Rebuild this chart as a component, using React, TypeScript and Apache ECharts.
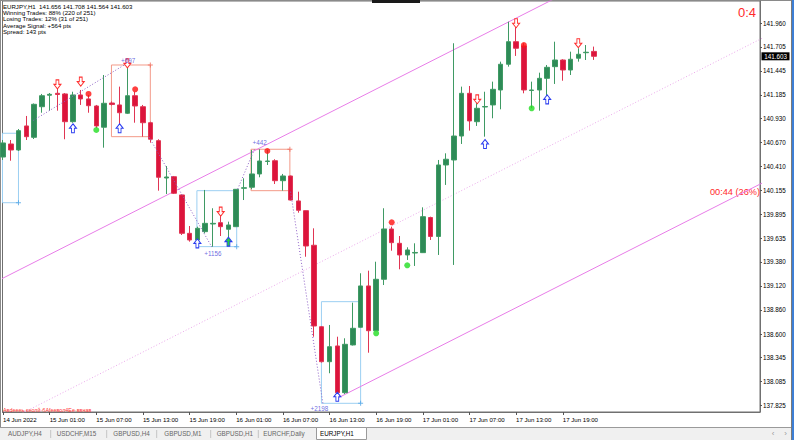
import React, { useEffect, useRef } from "react";
import * as echarts from "echarts";

const FONT = '"Liberation Sans", Arial, sans-serif';

const symbolName = "EURJPY,H1";

// H1 bars from 14 Jun 2022 19:00 to 17 Jun 2022 23:00
const opens = [
  140.514, 140.655, 140.590, 140.850, 140.727, 141.058, 141.182, 141.203, 141.196, 140.896,
  141.185, 141.142, 141.066, 140.836, 141.098, 141.077, 140.987, 141.177, 141.058, 140.885,
  140.691, 140.287, 140.301, 140.104, 139.689, 139.617, 139.707, 139.790, 139.804, 139.733,
  139.761, 140.176, 140.187, 140.331, 140.466, 140.474, 140.258, 140.309, 140.039, 139.934,
  139.560, 138.679, 138.301, 138.471, 137.966, 138.482, 138.673, 139.120, 138.636, 139.192,
  139.736, 139.581, 139.455, 139.476, 139.480, 139.860, 139.655, 140.428, 140.482, 140.741,
  141.203, 140.896, 141.055, 141.077, 141.239, 141.517, 141.761, 141.715, 141.233, 141.239,
  141.365, 141.491, 141.563, 141.455, 141.582, 141.642, 141.656,
];
const highs = [
  140.698, 140.698, 140.817, 140.958, 141.093, 141.196, 141.206, 141.250, 141.206, 141.220,
  141.239, 141.185, 141.077, 141.401, 141.115, 141.275, 141.509, 141.220, 141.077, 140.896,
  140.706, 140.417, 140.309, 140.109, 139.768, 139.761, 140.158, 139.960, 139.960, 139.815,
  140.168, 140.284, 140.590, 140.598, 140.590, 140.490, 140.331, 140.314, 140.139, 139.936,
  139.743, 138.687, 138.698, 138.571, 138.554, 138.939, 139.257, 139.285, 139.382, 139.960,
  139.761, 139.660, 139.538, 139.581, 139.970, 139.869, 140.482, 140.554, 141.744, 141.275,
  141.282, 141.131, 141.220, 141.329, 141.545, 141.977, 141.923, 141.744, 141.329, 141.426,
  141.509, 141.761, 141.571, 141.653, 141.690, 141.725, 141.708,
];
const lows = [
  140.482, 140.474, 140.579, 140.698, 140.709, 140.993, 141.015, 141.015, 140.706, 140.885,
  141.077, 140.993, 140.828, 140.615, 141.071, 140.825, 140.979, 140.885, 140.734, 140.669,
  140.150, 140.114, 140.114, 139.671, 139.599, 139.599, 139.689, 139.544, 139.660, 139.624,
  139.757, 140.049, 140.165, 140.295, 140.428, 140.222, 140.150, 140.044, 139.912, 139.436,
  138.571, 138.292, 138.176, 137.941, 137.952, 138.476, 138.671, 138.398, 138.633, 139.130,
  139.501, 139.300, 139.401, 139.336, 139.476, 139.617, 139.455, 140.212, 139.347, 140.655,
  140.799, 140.850, 140.734, 140.933, 141.030, 141.491, 141.607, 141.203, 141.041, 141.015,
  141.166, 141.304, 141.339, 141.401, 141.545, 141.563, 141.564,
];
const closes = [
  140.666, 140.590, 140.799, 140.734, 141.084, 141.177, 141.192, 141.190, 140.896, 141.185,
  141.142, 141.069, 140.850, 141.095, 141.082, 140.993, 141.177, 141.066, 140.885, 140.706,
  140.295, 140.298, 140.122, 139.689, 139.617, 139.743, 139.797, 139.797, 139.761, 139.779,
  140.165, 140.182, 140.331, 140.471, 140.471, 140.258, 140.309, 140.049, 139.938, 139.552,
  138.687, 138.301, 138.463, 137.966, 138.489, 138.662, 139.120, 138.636, 139.192, 139.736,
  139.588, 139.455, 139.509, 139.482, 139.869, 139.655, 140.428, 140.490, 140.741, 141.203,
  140.904, 141.041, 141.060, 141.246, 141.517, 141.761, 141.690, 141.239, 141.239, 141.365,
  141.484, 141.563, 141.455, 141.571, 141.625, 141.647, 141.603,
];

const xTickIndex = [0, 6, 12, 18, 24, 30, 36, 42, 48, 54, 60, 66, 72];
const xTickLabels = [
  "14 Jun 2022", "15 Jun 01:00", "15 Jun 07:00", "15 Jun 13:00", "15 Jun 19:00",
  "16 Jun 01:00", "16 Jun 07:00", "16 Jun 13:00", "16 Jun 19:00",
  "17 Jun 01:00", "17 Jun 07:00", "17 Jun 13:00", "17 Jun 19:00",
];
const yTickValues = [
  141.96, 141.705, 141.445, 141.185, 140.93, 140.67, 140.41, 140.155, 139.895,
  139.635, 139.38, 139.12, 138.86, 138.6, 138.345, 138.085, 137.825,
];

const statLines = [
  "Winning Trades: 88% (220 of 251)",
  "Losing Trades: 12% (31 of 251)",
  "Average Signal: +564 pts",
  "Spread: 143 pts",
];
const timerText = "0:4";
const barTimerText = "00:44 (26%)";
const footNote = "Aвdeeeь·кеолй·бАfeeвол4Ee·ввнав";
const tabs = ["AUDJPY,H4", "USDCHF,M15", "GBPUSD,H4", "GBPUSD,M1", "GBPUSD,H1", "EURCHF,Daily", "EURJPY,H1"];

// signals: [bar index, price]
const sellArrows = [[7, 141.3], [10, 141.329], [16, 141.527], [28, 139.923], [61, 141.138], [66, 141.96], [74, 141.744]];
const buyArrows = [[9, 140.825], [15, 140.825], [25, 139.581], [43, 137.922], [62, 140.655], [70, 141.138]];
const buyArrowsFilled = [[29, 139.599]];
const redDots = [[11, 141.196], [17, 141.246], [34, 140.579], [50, 139.808], [67, 141.725]];
const greenDots = [[12, 140.806], [48, 138.608], [52, 139.343], [68, 141.041]];

// trade paths [[idx, price], [idx, price]]
const tradePaths = [
  [[3.9, 140.91], [16.0, 141.53]],
  [[18.78, 140.731], [26.86, 139.541]],
  [[30.19, 140.168], [32.41, 140.612]],
  [[36.99, 140.139], [41.18, 137.833]],
];
// boxes [x1, priceTop, x2, priceBottom]
const sellBoxes = [[13.95, 141.509, 18.95, 140.734], [31.9, 140.598, 36.9, 140.15]];
const buyBoxes = [[-1.5, 140.771, 1.99, 140.02], [24.94, 140.15, 30.06, 139.545], [40.96, 138.95, 46.0, 137.851]];
const tradeLabels = [[16.09, 141.556, "+697"], [26.99, 139.476, "+1156"], [33.01, 140.669, "+442"], [40.7, 137.79, "+2198"]];

// channel
const channelUpper = [[-0.2, 139.196], [71.73, 142.26]];
const channelLower = [[43.14, 137.911], [98.65, 140.275]];
const channelMid = [[2.5, 137.745], [98.65, 141.841]];

const X_MIN = -0.064;
const X_MAX = 97.372;
const Y_MIN = 137.757;
const Y_MAX = 142.201;

const ARROW_DOWN = "path://M3,0 L7,0 L7,5 L10,5 L5,10 L0,5 L3,5 Z";
const ARROW_UP = "path://M5,0 L10,5 L7,5 L7,10 L3,10 L3,5 L0,5 Z";
const PLUS = "path://M4,0 L6,0 L6,4 L10,4 L10,6 L6,6 L6,10 L4,10 L4,6 L0,6 L0,4 L4,4 Z";

function txt(x: number, y: number, text: string, size: number, fill: string, align = "left") {
  return {
    type: "text",
    x,
    y,
    silent: true,
    style: {
      text,
      fill,
      fontSize: size,
      fontFamily: FONT,
      align,
      textAlign: align,
      verticalAlign: "middle",
      textVerticalAlign: "middle",
    },
  };
}

export default function App() {
  const ref = useRef<HTMLDivElement>(null);

  useEffect(() => {
    if (!ref.current) return;
    const chart = echarts.init(ref.current, undefined, { renderer: "svg" });
    const n = opens.length;
    const candleData = opens.map((o, i) => [i, o, closes[i], lows[i], highs[i]]);
    const last = n - 1;
    const header =
      symbolName + "  " +
      [opens[last], highs[last], lows[last], closes[last]].map((v) => v.toFixed(3)).join(" ");

    const tabX = [8, 56.7, 113.3, 164.3, 216.7, 263.3, 320];
    const sepX = [50.7, 106.7, 156.7, 210.7, 258.3];

    const graphic: any[] = [
      { type: "rect", silent: true, shape: { x: 0, y: 427, width: 794, height: 13 }, style: { fill: "#f0f0f0" } },
      { type: "line", silent: true, shape: { x1: 0, y1: 427.5, x2: 794, y2: 427.5 }, style: { stroke: "#9a9a9a", lineWidth: 1 } },
      { type: "rect", silent: true, shape: { x: 316.5, y: 427.5, width: 50, height: 12 }, style: { fill: "#ffffff", stroke: "#9a9a9a", lineWidth: 1 } },
      ...sepX.map((x) => ({ type: "line", silent: true, shape: { x1: x, y1: 430, x2: x, y2: 438 }, style: { stroke: "#c4c4c4", lineWidth: 1 } })),
      ...tabs.map((t, i) => txt(tabX[i], 433.5, t, 6.3, i === tabs.length - 1 ? "#000" : "#666")),
      txt(773, 433, "‹", 8, "#999", "center"),
      txt(785.5, 433, "›", 8, "#999", "center"),
      { type: "line", silent: true, shape: { x1: 0, y1: 0.5, x2: 794, y2: 0.5 }, style: { stroke: "#8a8a8a", lineWidth: 1 } },
      { type: "line", silent: true, shape: { x1: 0.5, y1: 0, x2: 0.5, y2: 427 }, style: { stroke: "#8a8a8a", lineWidth: 1 } },
      { type: "rect", silent: true, shape: { x: 372, y: 0, width: 48, height: 3 }, style: { fill: "#1a1a1a" } },
      { type: "line", silent: true, shape: { x1: 791.5, y1: 0, x2: 791.5, y2: 440 }, style: { stroke: "#7a7a7a", lineWidth: 1 } },
      { type: "rect", silent: true, shape: { x: 792, y: 0, width: 2, height: 440 }, style: { fill: "#3d7fd6" } },
      txt(3, 6, header, 6.1, "#000"),
      ...statLines.map((s, i) => txt(3, 12.6 + i * 6.2, s, 6.1, "#000")),
      txt(756, 12.5, timerText, 13, "#ff2a2a", "right"),
      txt(760, 191.5, barTimerText, 9.2, "#ff2a2a", "right"),
      txt(3, 409.5, footNote, 5.4, "#ff3030"),
    ];

    const arrowSeries = (data: number[][], symbol: string, fill: string, stroke: string) => ({
      type: "scatter",
      data,
      symbol,
      symbolSize: [7, 9],
      silent: true,
      itemStyle: { color: fill, borderColor: stroke, borderWidth: 1, opacity: 1 },
      z: 5,
    });

    const option: any = {
      animation: false,
      backgroundColor: "#ffffff",
      textStyle: { fontFamily: FONT },
      grid: { left: 0, right: 34, top: 1, bottom: 28, show: true, borderColor: "#707070", borderWidth: 1 },
      xAxis: {
        type: "value",
        min: X_MIN,
        max: X_MAX,
        splitLine: { show: false },
        axisLine: { show: true, onZero: false, lineStyle: { color: "#707070" } },
        axisTick: { show: true, customValues: xTickIndex, length: 3, lineStyle: { color: "#555" } },
        axisLabel: {
          customValues: xTickIndex,
          formatter: (v: number) => {
            const k = xTickIndex.indexOf(Math.round(v));
            return k >= 0 ? xTickLabels[k] : "";
          },
          align: "left",
          fontSize: 6.1,
          fontFamily: FONT,
          color: "#000",
          margin: 4,
        },
      },
      yAxis: {
        type: "value",
        position: "right",
        min: Y_MIN,
        max: Y_MAX,
        splitLine: { show: false },
        axisLine: { show: true, onZero: false, lineStyle: { color: "#707070" } },
        axisTick: { show: true, customValues: yTickValues, length: 2, lineStyle: { color: "#555" } },
        axisLabel: {
          customValues: yTickValues,
          formatter: (v: number) => v.toFixed(3),
          fontSize: 6.3,
          fontFamily: FONT,
          color: "#000",
          margin: 3,
        },
      },
      graphic,
      series: [
        {
          type: "line",
          data: channelMid,
          symbol: "none",
          silent: true,
          lineStyle: { color: "#eaa8ea", width: 1, type: [1, 2] },
          z: 1,
        },
        {
          type: "line",
          data: channelUpper,
          symbol: "none",
          silent: true,
          lineStyle: { color: "#e87de8", width: 1 },
          z: 1,
        },
        {
          type: "line",
          data: channelLower,
          symbol: "none",
          silent: true,
          lineStyle: { color: "#e87de8", width: 1 },
          z: 1,
        },
        {
          type: "candlestick",
          data: candleData,
          barWidth: 5,
          silent: true,
          itemStyle: {
            color: "#2e8b57",
            color0: "#dc143c",
            borderColor: "#3f9a64",
            borderColor0: "#e03553",
            borderWidth: 1,
          },
          markArea: {
            silent: true,
            data: [
              ...sellBoxes.map((b) => [
                { coord: [b[0], b[1]], itemStyle: { color: "rgba(0,0,0,0)", borderColor: "#f39a88", borderWidth: 1 } },
                { coord: [b[2], b[3]] },
              ]),
              ...buyBoxes.map((b) => [
                { coord: [b[0], b[1]], itemStyle: { color: "rgba(0,0,0,0)", borderColor: "#9ccff2", borderWidth: 1 } },
                { coord: [b[2], b[3]] },
              ]),
            ],
          },
          z: 2,
        },
        ...tradePaths.map((p) => ({
          type: "line",
          data: p,
          symbol: "none",
          silent: true,
          lineStyle: { color: "#8d5fc6", width: 1, type: [1, 2] },
          z: 3,
        })),
        {
          type: "scatter",
          data: sellBoxes.map((b) => [b[2], b[1]]),
          symbol: PLUS,
          symbolSize: 5,
          silent: true,
          itemStyle: { color: "#f06a5a" },
          z: 4,
        },
        {
          type: "scatter",
          data: buyBoxes.map((b) => [b[2], b[3]]),
          symbol: PLUS,
          symbolSize: 5,
          silent: true,
          itemStyle: { color: "#4ea4e6" },
          z: 4,
        },
        arrowSeries(sellArrows, ARROW_DOWN, "#ffffff", "#ff3030"),
        arrowSeries(buyArrows, ARROW_UP, "#ffffff", "#2a3cf0"),
        arrowSeries(buyArrowsFilled, ARROW_UP, "#22cc44", "#2a3cf0"),
        {
          type: "scatter",
          data: redDots,
          symbol: "circle",
          symbolSize: 6,
          silent: true,
          itemStyle: { color: "#ff1010" },
          z: 5,
        },
        {
          type: "scatter",
          data: greenDots,
          symbol: "circle",
          symbolSize: 6,
          silent: true,
          itemStyle: { color: "#22dd22" },
          z: 5,
        },
        {
          type: "scatter",
          data: tradeLabels,
          symbolSize: 0,
          silent: true,
          label: {
            show: true,
            position: "inside",
            formatter: (p: any) => p.value[2],
            color: "#4646d8",
            fontSize: 6.3,
            fontFamily: FONT,
          },
          z: 6,
        },
      ],
    };

    chart.setOption(option);

    // current price tag on the price axis
    const yPix = chart.convertToPixel({ yAxisIndex: 0 }, closes[last]) as number;
    chart.setOption({
      graphic: [
        ...graphic,
        { type: "rect", silent: true, z: 100, shape: { x: 761.5, y: yPix - 4, width: 28, height: 8 }, style: { fill: "#000" } },
        { ...txt(775.5, yPix, closes[last].toFixed(3), 6.3, "#fff", "center"), z: 101 },
      ],
    });

    return () => chart.dispose();
  }, []);

  return (
    <div
      ref={ref}
      style={{ position: "fixed", left: 0, top: 0, width: 794, height: 440, background: "#fff" }}
    />
  );
}
